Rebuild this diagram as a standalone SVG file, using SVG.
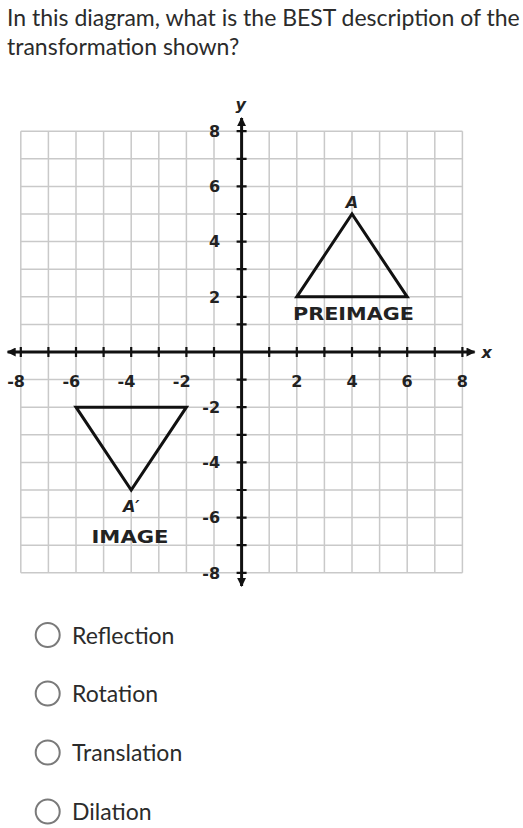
<svg xmlns="http://www.w3.org/2000/svg" width="523" height="828" viewBox="0 0 523 828">
<style>
.q{font-family:Lato,"Open Sans",sans-serif;font-size:23px;fill:#2b2b2b}
.grid{stroke:#c9c9c9;stroke-width:1.5;fill:none}
.axis{stroke:#111;stroke-width:3;fill:none}
.tick{stroke:#111;stroke-width:2.2}
.tri{stroke:#111;stroke-width:3;fill:none;stroke-linejoin:miter}
.lbl{font-family:"DejaVu Sans",Verdana,sans-serif;font-weight:bold;font-size:16px;fill:#222}
.big{font-family:"DejaVu Sans",Verdana,sans-serif;font-weight:bold;font-size:18px;fill:#222}
.it{font-family:"DejaVu Sans",Verdana,sans-serif;font-weight:bold;font-style:italic;font-size:16px;fill:#222}
.opt{fill:#fff;stroke:#7a7a7a;stroke-width:2}
</style>
<defs>
<marker id="ah" viewBox="0 0 10 10" refX="9" refY="5" markerWidth="3.2" markerHeight="3" orient="auto-start-reverse" markerUnits="strokeWidth">
<path d="M0,0 L10,5 L0,10 z" fill="#111"/>
</marker>
</defs>
<rect width="523" height="828" fill="#fff"/>
<g id="question">
<text class="q" x="7" y="26">In this diagram, what is the BEST description of the</text>
<text class="q" x="7" y="55">transformation shown?</text>
</g>
<g id="graph" transform="translate(241.6,352)">
<g id="grid" class="grid">
<path d="M-220.8,-220.8V220.8M-193.2,-220.8V220.8M-165.6,-220.8V220.8M-138,-220.8V220.8M-110.4,-220.8V220.8M-82.8,-220.8V220.8M-55.2,-220.8V220.8M-27.6,-220.8V220.8M0,-220.8V220.8M27.6,-220.8V220.8M55.2,-220.8V220.8M82.8,-220.8V220.8M110.4,-220.8V220.8M138,-220.8V220.8M165.6,-220.8V220.8M193.2,-220.8V220.8M220.8,-220.8V220.8"/>
<path d="M-220.8,-220.8H220.8M-220.8,-193.2H220.8M-220.8,-165.6H220.8M-220.8,-138H220.8M-220.8,-110.4H220.8M-220.8,-82.8H220.8M-220.8,-55.2H220.8M-220.8,-27.6H220.8M-220.8,0H220.8M-220.8,27.6H220.8M-220.8,55.2H220.8M-220.8,82.8H220.8M-220.8,110.4H220.8M-220.8,138H220.8M-220.8,165.6H220.8M-220.8,193.2H220.8M-220.8,220.8H220.8"/>
</g>
<g id="axes">
<line class="axis" x1="-234" y1="0" x2="233" y2="0" marker-start="url(#ah)" marker-end="url(#ah)"/>
<line class="axis" x1="0" y1="-234" x2="0" y2="234" marker-start="url(#ah)" marker-end="url(#ah)"/>
<path class="tick" d="M-220.8,-5V5M-193.2,-5V5M-165.6,-5V5M-138,-5V5M-110.4,-5V5M-82.8,-5V5M-55.2,-5V5M-27.6,-5V5M27.6,-5V5M55.2,-5V5M82.8,-5V5M110.4,-5V5M138,-5V5M165.6,-5V5M193.2,-5V5M220.8,-5V5"/>
<path class="tick" d="M-5,-220.8H5M-5,-193.2H5M-5,-165.6H5M-5,-138H5M-5,-110.4H5M-5,-82.8H5M-5,-55.2H5M-5,-27.6H5M-5,27.6H5M-5,55.2H5M-5,82.8H5M-5,110.4H5M-5,138H5M-5,165.6H5M-5,193.2H5M-5,220.8H5"/>
<text class="it" x="245" y="6" text-anchor="middle">x</text>
<text class="it" x="-1" y="-242" text-anchor="middle">y</text>
</g>
<g id="xlabels" class="lbl" text-anchor="middle">
<text x="-225.5" y="34.8">-8</text>
<text x="-170.3" y="34.8">-6</text>
<text x="-115.1" y="34.8">-4</text>
<text x="-59.9" y="34.8">-2</text>
<text x="55.2" y="34.8">2</text>
<text x="110.4" y="34.8">4</text>
<text x="165.6" y="34.8">6</text>
<text x="220.8" y="34.8">8</text>
</g>
<g id="ylabels" class="lbl" text-anchor="end">
<text x="-21.5" y="-215">8</text>
<text x="-21.5" y="-159.8">6</text>
<text x="-21.5" y="-104.6">4</text>
<text x="-21.5" y="-49.4">2</text>
<text x="-21.5" y="61">-2</text>
<text x="-21.5" y="116.2">-4</text>
<text x="-21.5" y="171.4">-6</text>
<text x="-21.5" y="226.6">-8</text>
</g>
<g id="preimage">
<polygon class="tri" points="55.2,-55.2 165.6,-55.2 110.4,-138"/>
<text class="it" x="110.4" y="-144.5" text-anchor="middle" font-size="15">A</text>
<text class="big" x="111.9" y="-32" text-anchor="middle" textLength="121" lengthAdjust="spacingAndGlyphs">PREIMAGE</text>
</g>
<g id="image">
<polygon class="tri" points="-165.6,55.2 -55.2,55.2 -110.4,138"/>
<text class="it" x="-110.4" y="159.7" text-anchor="middle" font-size="15">A′</text>
<text class="big" x="-111.6" y="190.7" text-anchor="middle" textLength="77" lengthAdjust="spacingAndGlyphs">IMAGE</text>
</g>
</g>
<g id="options">
<g id="opt1"><circle class="opt" cx="47.7" cy="635" r="12"/><text class="q" x="72" y="643.5">Reflection</text></g>
<g id="opt2"><circle class="opt" cx="47.7" cy="693.5" r="12"/><text class="q" x="72" y="702">Rotation</text></g>
<g id="opt3"><circle class="opt" cx="47.7" cy="752.5" r="12"/><text class="q" x="72" y="761">Translation</text></g>
<g id="opt4"><circle class="opt" cx="47.7" cy="811.5" r="12"/><text class="q" x="72" y="820">Dilation</text></g>
</g>
</svg>
